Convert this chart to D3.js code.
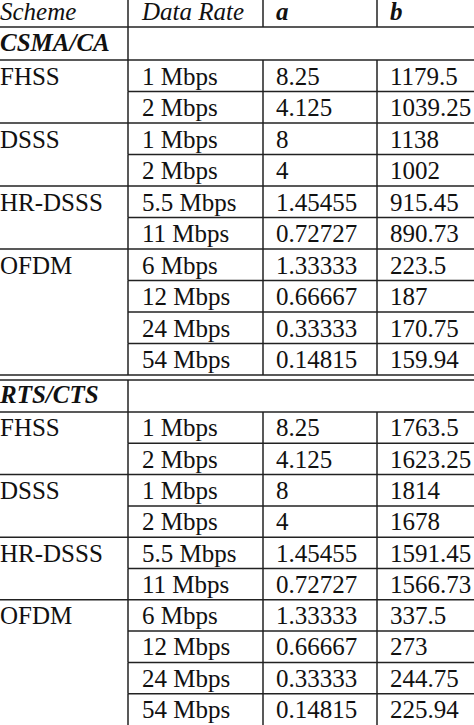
<!DOCTYPE html><html><head><meta charset="utf-8">
<script src="https://cdn.jsdelivr.net/npm/d3@7"></script>
<style>body{margin:0;background:#fff}svg{display:block}text{font-family:"Liberation Serif","Times New Roman",serif;font-size:25px;fill:#111}</style>
</head><body><svg id="c" width="474" height="725"></svg>
<script>
const headers=["Scheme","Data Rate","a","b"];
const sections=["CSMA/CA","RTS/CTS"];
const schemes=["FHSS","","DSSS","","HR-DSSS","","OFDM","","",""];
const rates=["1 Mbps","2 Mbps","1 Mbps","2 Mbps","5.5 Mbps","11 Mbps","6 Mbps","12 Mbps","24 Mbps","54 Mbps"];
const aCSMA=["8.25","4.125","8","4","1.45455","0.72727","1.33333","0.66667","0.33333","0.14815"];
const bCSMA=["1179.5","1039.25","1138","1002","915.45","890.73","223.5","187","170.75","159.94"];
const aRTS=["8.25","4.125","8","4","1.45455","0.72727","1.33333","0.66667","0.33333","0.14815"];
const bRTS=["1763.5","1623.25","1814","1678","1591.45","1566.73","337.5","273","244.75","225.94"];

const svg=d3.select("#c");
const colX=[0,128,263,377,474];
const textX=[0,142,276,390];
const line=(x1,y1,x2,y2)=>svg.append("line").attr("x1",x1).attr("y1",y1).attr("x2",x2).attr("y2",y2).attr("stroke","#222").attr("stroke-width",1.5);
const txt=(x,y,s,style,weight)=>svg.append("text").attr("x",x).attr("y",y).text(s).attr("font-style",style||"normal").attr("font-weight",weight||"normal");

headers.forEach((h,i)=>txt(textX[i],20,h,"italic",i>=2?"bold":"normal"));
line(0,27,474,27);
[1,2,3].forEach(i=>line(colX[i],0,colX[i],27));

const secTops=[27,380];
const secEnds=[375,725];
const data=[[aCSMA,bCSMA],[aRTS,bRTS]];
sections.forEach((s,si)=>{
  const top=secTops[si], hdrH= si==0?33:32;
  if(si==1)line(0,top,474,top);
  txt(0,top+hdrH-9,s,"italic","bold");
  line(colX[1],top,colX[1],top+hdrH);
  line(0,top+hdrH,474,top+hdrH);
  const y=d3.scaleBand().domain(d3.range(rates.length)).range([top+hdrH,secEnds[si]]);
  rates.forEach((r,i)=>{
    const y0=y(i),h=y.bandwidth();
    const by=y0+h-7;
    if(schemes[i])txt(textX[0],by,schemes[i]);
    txt(textX[1],by,r);txt(textX[2],by,data[si][0][i]);txt(textX[3],by,data[si][1][i]);
    [1,2,3].forEach(c=>line(colX[c],y0,colX[c],y0+h));
    if(i<rates.length-1){const full=schemes[i+1]!=="";line(full?0:colX[1],y0+h,474,y0+h);}
  });
  if(si==0)line(0,secEnds[0],474,secEnds[0]);
});
</script></body></html>
